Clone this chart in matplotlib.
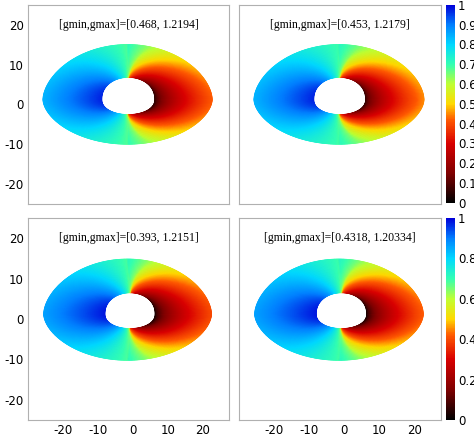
import numpy as np
import matplotlib.pyplot as plt
from matplotlib.colors import LinearSegmentedColormap

plt.rcParams['axes.unicode_minus'] = False

# panel labels
labels = ['[gmin,gmax]=[0.468, 1.2194]', '[gmin,gmax]=[0.453, 1.2179]',
          '[gmin,gmax]=[0.393, 1.2151]', '[gmin,gmax]=[0.4318, 1.20334]']
# disk shape per panel: outer centre x, half width, top, bottom ; inner centre x, half width, top, bottom
outer = [(-1.5, 24.2, 15.0, -10.0), (-1.5, 24.2, 15.0, -10.0),
         (-1.5, 24.0, 14.8, -10.2), (-1.5, 24.0, 14.8, -10.2)]
inner = [(-1.3, 7.6, 6.8, -2.6), (-1.3, 7.4, 6.8, -2.6),
         (-0.8, 7.2, 6.5, -2.4), (-0.8, 7.2, 6.5, -2.4)]
ycent = 1.2
# colour along the right (receding) and left (approaching) side, inner/outer edge
g_right = [(0.05, 0.42), (0.06, 0.45), (0.03, 0.40), (0.03, 0.42)]
g_left = [(0.97, 0.84), (0.97, 0.84), (0.98, 0.86), (0.98, 0.86)]

cmap = LinearSegmentedColormap.from_list('g', [
    (0.0, (0, 0, 0)), (0.15, (0.5, 0, 0)), (0.3, (0.85, 0, 0)), (0.42, (1, 0.35, 0)),
    (0.5, (1, 0.85, 0)), (0.6, (0.75, 1, 0.2)), (0.7, (0.2, 1, 0.7)), (0.8, (0, 0.85, 1)),
    (0.9, (0, 0.5, 1)), (1.0, (0, 0, 0.85))])


def ring(p, t, pw):
    cx, a, top, bot = p
    sn = np.sign(np.sin(t)) * np.abs(np.sin(t)) ** pw
    y = np.where(sn > 0, ycent + (top - ycent) * sn, ycent + (ycent - bot) * sn)
    return cx + a * np.cos(t), y


fig = plt.figure(figsize=(4.74, 4.43), dpi=100)
pos = [(0.059, 0.540, 0.424, 0.449), (0.504, 0.540, 0.426, 0.449),
       (0.059, 0.052, 0.424, 0.456), (0.504, 0.052, 0.426, 0.456)]
cpos = [(0.941, 0.542, 0.019, 0.447), (0.941, 0.052, 0.019, 0.456)]
t = np.linspace(0, 2 * np.pi, 361)
s = np.linspace(0, 1, 60)
S, T = np.meshgrid(s, t)
for i in range(4):
    ax = fig.add_axes(pos[i])
    xo, yo = ring(outer[i], T, 1.15)
    xi, yi = ring(inner[i], T, 0.9)
    X = xi + S * (xo - xi)
    Y = yi + S * (yo - yi)
    r0, r1 = g_right[i]
    l0, l1 = g_left[i]
    right = r0 + (r1 - r0) * S ** 0.6
    left = l0 + (l1 - l0) * S
    c = np.clip((np.cos(T) - 0.25 * S) / (1 - 0.25 * S * np.sign(np.cos(T))), -1, 1)
    w = 0.5 * (1 + np.sign(-c) * np.abs(c) ** (0.4 + 0.5 * S))
    G = right + (left - right) * w
    m = ax.pcolormesh(X, Y, G, cmap=cmap, vmin=0, vmax=1, shading='gouraud')
    ax.set_xlim(-30, 27.5)
    ax.set_ylim(-25, 25)
    ax.text(0.5, 0.9, labels[i], transform=ax.transAxes, ha='center', va='center',
            family='Liberation Serif', fontsize=8.5)
    ax.tick_params(length=0, labelsize=8.5, pad=3)
    ax.set_xticks([-20, -10, 0, 10, 20])
    ax.set_yticks([-20, -10, 0, 10, 20])
    for sp in ax.spines.values():
        sp.set_color('#b0b0b0')
    if i % 2 == 1:
        ax.set_yticklabels([])
    else:
        ax.set_ylabel('β', rotation=0, fontsize=10, labelpad=8)
    if i < 2:
        ax.set_xticklabels([])
    else:
        ax.set_xlabel('α', fontsize=10, labelpad=3)
    if i % 2 == 1:
        cax = fig.add_axes(cpos[i // 2])
        cb = fig.colorbar(m, cax=cax)
        cb.set_ticks(np.arange(0, 1.01, 0.1) if i == 1 else [0, 0.2, 0.4, 0.6, 0.8, 1])
        cb.set_ticklabels(['0', '0.1', '0.2', '0.3', '0.4', '0.5', '0.6', '0.7', '0.8', '0.9', '1']
                          if i == 1 else ['0', '0.2', '0.4', '0.6', '0.8', '1'])
        cb.ax.tick_params(length=0, labelsize=8.5, pad=2)
        cb.outline.set_visible(False)

fig.savefig('out.png')
